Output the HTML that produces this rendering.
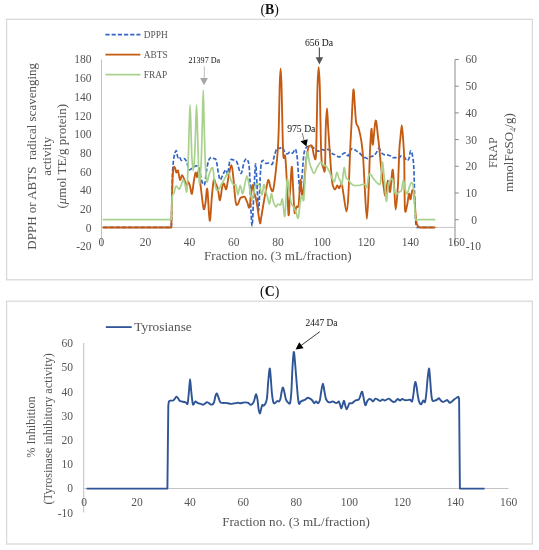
<!DOCTYPE html>
<html><head><meta charset="utf-8"><title>Figure</title>
<style>html,body{margin:0;padding:0;background:#fff}body{width:539px;height:550px;position:relative;overflow:hidden}</style>
</head><body>
<svg width="539" height="550" viewBox="0 0 539 550" style="position:absolute;left:0;top:0;font-family:'Liberation Serif',serif">
<rect x="6.6" y="19.3" width="525.8" height="260.5" fill="#fff" stroke="#d9d9d9" stroke-width="1.3"/>
<rect x="6.6" y="301.2" width="525.8" height="242.8" fill="#fff" stroke="#d9d9d9" stroke-width="1.3"/>
<text x="269.7" y="14.1" font-size="13.8" text-anchor="middle" fill="#111">(<tspan font-weight="bold">B</tspan>)</text>
<text x="269.7" y="296.4" font-size="13.8" text-anchor="middle" fill="#111">(<tspan font-weight="bold">C</tspan>)</text>
<line x1="101.5" y1="59.5" x2="101.5" y2="246.5" stroke="#bfbfbf" stroke-width="1"/>
<line x1="101.5" y1="227.4" x2="455" y2="227.4" stroke="#c4c4c4" stroke-width="1"/>
<line x1="455" y1="59.5" x2="455" y2="246.5" stroke="#8c8c8c" stroke-width="1"/>
<line x1="455" y1="59.5" x2="458.8" y2="59.5" stroke="#8c8c8c" stroke-width="1"/>
<line x1="455" y1="86.2" x2="458.8" y2="86.2" stroke="#8c8c8c" stroke-width="1"/>
<line x1="455" y1="112.9" x2="458.8" y2="112.9" stroke="#8c8c8c" stroke-width="1"/>
<line x1="455" y1="139.6" x2="458.8" y2="139.6" stroke="#8c8c8c" stroke-width="1"/>
<line x1="455" y1="166.3" x2="458.8" y2="166.3" stroke="#8c8c8c" stroke-width="1"/>
<line x1="455" y1="193.0" x2="458.8" y2="193.0" stroke="#8c8c8c" stroke-width="1"/>
<line x1="455" y1="219.7" x2="458.8" y2="219.7" stroke="#8c8c8c" stroke-width="1"/>
<text x="91.5" y="63.4" font-size="11.5" text-anchor="end" fill="#545454">180</text>
<text x="91.5" y="82.1" font-size="11.5" text-anchor="end" fill="#545454">160</text>
<text x="91.5" y="100.8" font-size="11.5" text-anchor="end" fill="#545454">140</text>
<text x="91.5" y="119.5" font-size="11.5" text-anchor="end" fill="#545454">120</text>
<text x="91.5" y="138.2" font-size="11.5" text-anchor="end" fill="#545454">100</text>
<text x="91.5" y="156.9" font-size="11.5" text-anchor="end" fill="#545454">80</text>
<text x="91.5" y="175.6" font-size="11.5" text-anchor="end" fill="#545454">60</text>
<text x="91.5" y="194.3" font-size="11.5" text-anchor="end" fill="#545454">40</text>
<text x="91.5" y="213.0" font-size="11.5" text-anchor="end" fill="#545454">20</text>
<text x="91.5" y="231.7" font-size="11.5" text-anchor="end" fill="#545454">0</text>
<text x="91.5" y="250.4" font-size="11.5" text-anchor="end" fill="#545454">-20</text>
<text x="477.0" y="63.4" font-size="11.5" text-anchor="end" fill="#545454">60</text>
<text x="477.0" y="90.1" font-size="11.5" text-anchor="end" fill="#545454">50</text>
<text x="477.0" y="116.8" font-size="11.5" text-anchor="end" fill="#545454">40</text>
<text x="477.0" y="143.5" font-size="11.5" text-anchor="end" fill="#545454">30</text>
<text x="477.0" y="170.2" font-size="11.5" text-anchor="end" fill="#545454">20</text>
<text x="477.0" y="196.9" font-size="11.5" text-anchor="end" fill="#545454">10</text>
<text x="477.0" y="223.6" font-size="11.5" text-anchor="end" fill="#545454">0</text>
<text x="481.0" y="250.3" font-size="11.5" text-anchor="end" fill="#545454">-10</text>
<text x="101.3" y="245.8" font-size="11.5" text-anchor="middle" fill="#545454">0</text>
<text x="145.5" y="245.8" font-size="11.5" text-anchor="middle" fill="#545454">20</text>
<text x="189.6" y="245.8" font-size="11.5" text-anchor="middle" fill="#545454">40</text>
<text x="233.8" y="245.8" font-size="11.5" text-anchor="middle" fill="#545454">60</text>
<text x="277.9" y="245.8" font-size="11.5" text-anchor="middle" fill="#545454">80</text>
<text x="322.1" y="245.8" font-size="11.5" text-anchor="middle" fill="#545454">100</text>
<text x="366.3" y="245.8" font-size="11.5" text-anchor="middle" fill="#545454">120</text>
<text x="410.4" y="245.8" font-size="11.5" text-anchor="middle" fill="#545454">140</text>
<text x="456.3" y="245.8" font-size="11.5" text-anchor="middle" fill="#545454">160</text>
<text x="277.8" y="260.4" font-size="13.1" text-anchor="middle" fill="#545454">Fraction no. (3 mL/fraction)</text>
<g transform="translate(0,156.3) rotate(-90)" font-size="13" text-anchor="middle" fill="#545454">
<text x="0" y="36.3" xml:space="preserve">DPPH or ABTS  radical scavenging</text>
<text x="0" y="50.8">activity</text>
<text x="0" y="66">(<tspan font-style="italic">μ</tspan>mol TE/g protein)</text>
</g>
<g transform="translate(0,152.6) rotate(-90)" font-size="13" text-anchor="middle" fill="#545454">
<text x="0" y="497.2" font-size="12.3">FRAP</text>
<text x="0" y="513">mmolFeSO<tspan font-size="8.5" dy="2.5">4</tspan><tspan dy="-2.5">/g)</tspan></text>
</g>
<line x1="105.4" y1="34.7" x2="140.4" y2="34.7" stroke="#3566c6" stroke-width="1.8" stroke-dasharray="4.2 2"/>
<text x="143.7" y="37.9" font-size="9.4" fill="#545454">DPPH</text>
<line x1="105.4" y1="54.6" x2="140.4" y2="54.6" stroke="#c55a11" stroke-width="1.8"/>
<text x="143.7" y="57.8" font-size="9.4" fill="#545454">ABTS</text>
<line x1="105.4" y1="74.6" x2="140.4" y2="74.6" stroke="#a9d18e" stroke-width="1.8"/>
<text x="143.7" y="77.8" font-size="9.4" fill="#545454">FRAP</text>
<path d="M103.30,227.30 L171.30,227.30 C171.43,222.03 171.84,204.95 172.06,195.66 C172.28,186.37 172.31,177.88 172.62,171.54 C172.93,165.20 173.33,161.12 173.91,157.63 C174.50,154.13 175.49,150.64 176.14,150.58 C176.79,150.51 177.25,156.23 177.81,157.25 C178.37,158.27 178.89,156.17 179.48,156.70 C180.07,157.22 180.56,160.10 181.34,160.41 C182.11,160.72 183.19,158.24 184.12,158.55 C185.05,158.86 186.13,160.41 186.90,162.26 C187.67,164.12 187.83,168.76 188.76,169.68 C189.68,170.61 191.23,168.45 192.47,167.83 C193.70,167.21 195.10,165.97 196.18,165.97 C197.26,165.97 198.03,165.36 198.96,167.83 C199.89,170.30 200.82,178.03 201.74,180.82 C202.67,183.60 203.75,186.07 204.53,184.53 C205.30,182.98 205.70,175.56 206.38,171.54 C207.06,167.52 207.84,162.73 208.61,160.41 C209.38,158.09 210.15,157.93 211.02,157.63 C211.89,157.32 212.94,158.09 213.80,158.55 C214.67,159.02 215.44,157.93 216.22,160.41 C216.99,162.88 217.76,170.15 218.44,173.40 C219.12,176.64 219.52,179.73 220.30,179.89 C221.07,180.04 222.15,176.02 223.08,174.32 C224.01,172.62 225.09,169.68 225.86,169.68 C226.64,169.68 227.10,175.56 227.72,174.32 C228.34,173.09 228.95,164.74 229.57,162.26 C230.19,159.79 230.66,159.79 231.43,159.48 C232.20,159.17 233.28,159.94 234.21,160.41 C235.14,160.87 236.07,160.41 236.99,162.26 C237.92,164.12 239.00,169.84 239.78,171.54 C240.55,173.24 240.86,174.17 241.63,172.47 C242.41,170.77 243.49,163.50 244.42,161.34 C245.34,159.17 246.36,158.09 247.20,159.48 C248.03,160.87 248.81,161.49 249.42,169.68 C250.04,177.88 250.45,199.37 250.91,208.65 C251.37,217.92 251.74,227.51 252.21,225.34 C252.67,223.18 253.14,205.86 253.69,195.66 C254.25,185.45 255.02,166.28 255.55,164.12 C256.08,161.95 256.49,176.49 256.86,182.67 C257.24,188.86 257.51,196.49 257.79,201.22 C258.07,205.96 258.29,211.06 258.53,211.06 C258.78,211.06 259.00,206.88 259.28,201.22 C259.55,195.57 259.86,183.44 260.20,177.11 C260.54,170.77 260.85,165.97 261.32,163.19 C261.78,160.41 262.24,160.41 262.99,160.41 C263.73,160.41 264.84,162.73 265.77,163.19 C266.70,163.65 267.47,163.04 268.55,163.19 C269.64,163.35 271.34,165.20 272.26,164.12 C273.19,163.04 273.35,159.33 274.12,156.70 C274.89,154.07 275.97,149.74 276.90,148.35 C277.83,146.96 278.76,148.50 279.68,148.35 C280.61,148.19 281.69,146.96 282.47,147.42 C283.24,147.88 283.55,150.05 284.32,151.13 C285.10,152.21 286.18,153.76 287.11,153.91 C288.03,154.07 288.96,152.21 289.89,152.06 C290.82,151.90 291.74,153.45 292.67,152.99 C293.60,152.52 294.68,148.35 295.45,149.28 C296.23,150.20 296.78,153.91 297.31,158.55 C297.84,163.19 298.14,171.54 298.61,177.11 C299.07,182.67 299.54,191.95 300.09,191.95 C300.65,191.95 301.33,183.29 301.95,177.11 C302.57,170.92 303.18,159.64 303.80,154.84 C304.42,150.05 305.04,149.74 305.66,148.35 C306.28,146.96 306.74,146.80 307.51,146.49 C308.29,146.18 309.37,146.34 310.30,146.49 C311.22,146.65 312.15,146.80 313.08,147.42 C314.01,148.04 314.94,149.59 315.86,150.20 C316.79,150.82 317.72,151.29 318.65,151.13 C319.57,150.98 320.50,149.43 321.43,149.28 C322.36,149.12 323.28,150.20 324.21,150.20 C325.14,150.20 326.07,149.28 326.99,149.28 C327.92,149.28 328.85,149.43 329.78,150.20 C330.71,150.98 331.63,153.14 332.56,153.91 C333.49,154.69 334.42,154.38 335.34,154.84 C336.27,155.31 337.35,156.39 338.13,156.70 C338.90,157.01 339.22,157.16 340.00,156.70 C340.78,156.23 341.86,154.53 342.78,153.91 C343.71,153.30 344.64,152.68 345.57,152.99 C346.49,153.30 347.42,156.39 348.35,155.77 C349.28,155.15 350.20,150.36 351.13,149.28 C352.06,148.19 352.99,148.97 353.91,149.28 C354.84,149.59 355.77,150.51 356.70,151.13 C357.63,151.75 358.55,152.21 359.48,152.99 C360.41,153.76 361.34,155.00 362.26,155.77 C363.19,156.54 364.12,157.16 365.05,157.63 C365.97,158.09 366.90,158.71 367.83,158.55 C368.76,158.40 369.68,157.16 370.61,156.70 C371.54,156.23 372.47,156.39 373.40,155.77 C374.32,155.15 375.25,154.22 376.18,152.99 C377.11,151.75 378.03,148.35 378.96,148.35 C379.89,148.35 380.82,151.90 381.74,152.99 C382.67,154.07 383.60,154.53 384.53,154.84 C385.45,155.15 386.38,154.69 387.31,154.84 C388.24,155.00 389.17,155.31 390.09,155.77 C391.02,156.23 391.95,157.32 392.88,157.63 C393.80,157.93 394.73,157.47 395.66,157.63 C396.59,157.78 397.51,158.86 398.44,158.55 C399.37,158.24 400.30,156.08 401.22,155.77 C402.15,155.46 403.08,155.92 404.01,156.70 C404.94,157.47 405.96,160.10 406.79,160.41 C407.63,160.72 408.40,160.10 409.02,158.55 C409.64,157.01 409.94,151.75 410.50,151.13 C411.06,150.51 411.80,152.06 412.36,154.84 C412.91,157.63 413.47,161.03 413.84,167.83 C414.21,174.63 414.27,186.69 414.58,195.66 C414.89,204.63 415.26,216.31 415.70,221.63 C416.13,226.95 416.93,226.58 417.18,227.57 L417.50,227.30 L434.70,227.30" fill="none" stroke="#3566c6" stroke-width="1.7" stroke-dasharray="4.2 2" stroke-linejoin="round"/>
<path d="M103.30,227.50 L171.30,227.50 C171.43,222.19 171.84,204.06 172.06,195.66 C172.28,187.26 172.34,181.81 172.62,177.11 C172.89,172.41 173.33,169.00 173.73,167.46 C174.13,165.91 174.59,166.99 175.03,167.83 C175.46,168.66 175.83,172.00 176.33,172.47 C176.82,172.93 177.38,169.38 178.00,170.61 C178.61,171.85 179.33,179.12 180.04,179.89 C180.75,180.66 181.43,174.94 182.26,175.25 C183.10,175.56 184.27,180.04 185.05,181.74 C185.82,183.44 186.38,185.45 186.90,185.45 C187.43,185.45 187.67,181.59 188.20,181.74 C188.73,181.90 189.44,184.37 190.06,186.38 C190.67,188.39 191.29,194.58 191.91,193.80 C192.53,193.03 193.15,185.30 193.77,181.74 C194.38,178.19 195.06,173.24 195.62,172.47 C196.18,171.69 196.55,177.41 197.11,177.11 C197.66,176.80 198.34,168.91 198.96,170.61 C199.58,172.31 200.04,180.97 200.82,187.31 C201.59,193.65 202.83,206.02 203.60,208.65 C204.37,211.27 204.84,206.33 205.45,203.08 C206.07,199.83 206.60,186.23 207.31,189.17 C208.02,192.10 208.95,219.62 209.72,220.71 C210.49,221.79 211.27,202.46 211.95,195.66 C212.63,188.86 213.18,181.90 213.80,179.89 C214.42,177.88 214.98,182.05 215.66,183.60 C216.34,185.15 217.17,186.38 217.88,189.17 C218.60,191.95 219.21,200.61 219.93,200.30 C220.64,199.99 221.47,190.09 222.15,187.31 C222.83,184.53 223.33,183.29 224.01,183.60 C224.69,183.91 225.46,190.40 226.23,189.17 C227.01,187.93 227.78,180.20 228.65,176.18 C229.51,172.16 230.66,164.89 231.43,165.05 C232.20,165.20 232.57,170.92 233.28,177.11 C234.00,183.29 234.92,197.67 235.70,202.15 C236.47,206.64 237.18,204.63 237.92,204.01 C238.66,203.39 239.38,199.59 240.15,198.44 C240.92,197.30 241.79,197.39 242.56,197.14 C243.33,196.90 244.01,196.12 244.79,196.96 C245.56,197.79 246.39,200.48 247.20,202.15 C248.00,203.82 248.77,209.76 249.61,206.98 C250.45,204.19 251.45,187.77 252.23,185.45 C253.00,183.14 253.56,190.43 254.27,193.06 C254.98,195.69 255.57,196.34 256.49,201.22 C257.42,206.11 259.06,219.59 259.83,222.37 C260.61,225.16 260.45,221.45 261.13,217.92 C261.81,214.40 262.99,206.48 263.91,201.22 C264.84,195.97 265.92,189.94 266.70,186.38 C267.47,182.83 267.87,179.58 268.55,179.89 C269.23,180.20 270.01,186.54 270.78,188.24 C271.55,189.94 272.33,193.18 273.19,190.09 C274.06,187.00 275.20,176.49 275.97,169.68 C276.75,162.88 277.37,156.18 277.83,149.28 C278.29,142.38 278.45,138.90 278.76,128.29 C279.07,117.68 279.38,95.58 279.68,85.62 C279.99,75.66 280.30,68.55 280.61,68.55 C280.92,68.55 281.23,75.66 281.54,85.62 C281.85,95.58 282.16,116.45 282.47,128.29 C282.78,140.14 282.93,151.96 283.40,156.70 C283.86,161.43 284.63,151.75 285.25,156.70 C285.87,161.65 286.55,176.64 287.11,186.38 C287.66,196.12 288.13,213.59 288.59,215.14 C289.05,216.69 289.36,203.70 289.89,195.66 C290.41,187.62 291.22,168.45 291.74,166.90 C292.27,165.36 292.58,178.81 293.04,186.38 C293.51,193.96 293.97,208.95 294.53,212.36 C295.08,215.76 295.70,208.03 296.38,206.79 C297.06,205.55 297.93,209.42 298.61,204.94 C299.29,200.45 299.88,181.43 300.46,179.89 C301.05,178.34 301.58,194.42 302.13,195.66 C302.69,196.90 303.31,191.33 303.80,187.31 C304.30,183.29 304.64,176.64 305.10,171.54 C305.57,166.44 306.03,160.72 306.59,156.70 C307.14,152.68 307.82,149.28 308.44,147.42 C309.06,145.57 309.68,145.72 310.30,145.57 C310.92,145.41 311.53,144.79 312.15,146.49 C312.77,148.19 313.39,154.07 314.01,155.77 C314.63,157.47 315.40,162.20 315.86,156.70 C316.33,151.19 316.51,134.57 316.79,122.73 C317.07,110.88 317.22,94.90 317.53,85.62 C317.84,76.35 318.27,67.07 318.65,67.07 C319.02,67.07 319.45,76.35 319.76,85.62 C320.07,94.90 320.22,110.57 320.50,122.73 C320.78,134.88 320.96,151.04 321.43,158.55 C321.89,166.07 322.70,166.13 323.28,167.83 C323.87,169.53 324.55,175.10 324.95,168.76 C325.36,162.41 325.36,139.83 325.70,129.78 C326.04,119.72 326.56,108.44 326.99,108.44 C327.43,108.44 327.52,118.33 328.29,129.78 C329.07,141.22 330.77,167.52 331.63,177.11 C332.50,186.69 332.87,185.30 333.49,187.31 C334.11,189.32 334.72,189.47 335.34,189.17 C335.96,188.86 336.58,185.61 337.20,185.45 C337.82,185.30 338.59,188.08 339.05,188.24 C339.52,188.39 339.53,187.00 340.00,186.38 C340.47,185.76 341.24,182.98 341.86,184.53 C342.47,186.07 342.94,191.18 343.71,195.66 C344.48,200.14 345.72,211.43 346.49,211.43 C347.27,211.43 347.73,206.02 348.35,195.66 C348.97,185.30 349.68,161.18 350.20,149.28 C350.73,137.37 350.98,134.11 351.50,124.21 C352.03,114.31 352.80,92.98 353.36,89.89 C353.91,86.80 354.38,100.25 354.84,105.66 C355.31,111.07 355.52,118.65 356.14,122.36 C356.76,126.07 357.69,124.83 358.55,127.92 C359.42,131.01 360.56,135.80 361.34,140.91 C362.11,146.01 362.63,150.97 363.19,158.55 C363.75,166.13 364.06,176.33 364.68,186.38 C365.29,196.43 366.22,218.85 366.90,218.85 C367.58,218.85 368.23,197.98 368.76,186.38 C369.28,174.79 369.59,158.87 370.06,149.28 C370.52,139.69 371.08,129.63 371.54,128.85 C372.00,128.07 372.16,146.01 372.84,144.62 C373.52,143.23 374.76,121.74 375.62,120.50 C376.49,119.26 377.41,132.56 378.03,137.20 C378.65,141.84 378.81,143.23 379.33,148.33 C379.86,153.44 380.48,161.49 381.19,167.83 C381.90,174.17 382.89,181.74 383.60,186.38 C384.31,191.02 384.74,196.59 385.45,195.66 C386.17,194.73 387.09,181.43 387.87,180.82 C388.64,180.20 389.32,193.80 390.09,191.95 C390.87,190.09 391.82,170.61 392.50,169.68 C393.18,168.76 393.65,179.73 394.17,186.38 C394.70,193.03 395.04,209.57 395.66,209.57 C396.28,209.57 397.27,196.43 397.88,186.38 C398.50,176.33 398.97,157.16 399.37,149.28 C399.77,141.39 399.89,143.08 400.30,139.05 C400.70,135.03 401.32,125.14 401.78,125.14 C402.24,125.14 402.68,133.48 403.08,139.05 C403.48,144.62 403.88,146.95 404.19,158.55 C404.50,170.15 404.44,200.92 404.94,208.65 C405.43,216.38 406.48,207.41 407.16,204.94 C407.84,202.46 408.46,194.73 409.02,193.80 C409.57,192.88 409.94,199.99 410.50,199.37 C411.06,198.75 411.74,190.71 412.36,190.09 C412.97,189.47 413.59,190.71 414.21,195.66 C414.83,200.61 415.45,214.68 416.07,219.78 C416.69,224.88 417.30,225.03 417.92,226.27 C418.54,227.51 419.47,227.04 419.78,227.20 L420.20,227.50 L434.70,227.50" fill="none" stroke="#c55a11" stroke-width="1.85" stroke-linejoin="round" stroke-linecap="round"/>
<path d="M103.30,219.70 L171.30,219.70 C171.40,217.55 171.69,210.80 171.87,206.79 C172.06,202.78 172.06,197.98 172.43,195.66 C172.80,193.34 173.54,194.42 174.10,192.88 C174.66,191.33 175.18,187.31 175.77,186.38 C176.36,185.45 177.01,186.85 177.63,187.31 C178.24,187.77 178.86,189.63 179.48,189.17 C180.10,188.70 180.72,186.07 181.34,184.53 C181.95,182.98 182.57,179.89 183.19,179.89 C183.81,179.89 184.43,182.67 185.05,184.53 C185.66,186.38 186.38,194.84 186.90,191.02 C187.43,187.20 187.86,170.86 188.20,161.63 C188.54,152.41 188.63,145.09 188.94,135.66 C189.25,126.23 189.68,105.05 190.06,105.05 C190.43,105.05 190.86,126.85 191.17,135.66 C191.48,144.47 191.57,152.10 191.91,157.92 C192.25,163.75 192.78,170.61 193.21,170.61 C193.64,170.61 194.14,163.75 194.51,157.92 C194.88,152.10 195.10,144.47 195.44,135.66 C195.78,126.85 196.18,105.05 196.55,105.05 C196.92,105.05 197.35,126.23 197.66,135.66 C197.97,145.09 198.10,153.33 198.40,161.63 C198.71,169.93 199.05,185.45 199.52,185.45 C199.98,185.45 200.75,170.55 201.19,161.63 C201.62,152.71 201.77,143.85 202.12,131.95 C202.46,120.04 202.86,90.20 203.23,90.20 C203.60,90.20 204.00,120.04 204.34,131.95 C204.68,143.85 204.87,153.33 205.27,161.63 C205.67,169.93 206.10,179.63 206.75,181.74 C207.40,183.86 208.21,176.64 209.17,174.32 C210.12,172.00 211.58,166.44 212.50,167.83 C213.43,169.22 214.05,178.96 214.73,182.67 C215.41,186.38 215.88,189.01 216.59,190.09 C217.30,191.18 218.23,190.09 219.00,189.17 C219.77,188.24 220.39,186.07 221.22,184.53 C222.06,182.98 223.14,181.43 224.01,179.89 C224.87,178.34 225.65,176.49 226.42,175.25 C227.19,174.01 227.90,171.69 228.65,172.47 C229.39,173.24 230.10,177.88 230.87,179.89 C231.65,181.90 232.42,183.60 233.28,184.53 C234.15,185.45 235.29,183.75 236.07,185.45 C236.84,187.16 237.24,194.73 237.92,194.73 C238.60,194.73 239.38,185.61 240.15,185.45 C240.92,185.30 241.85,193.65 242.56,193.80 C243.27,193.96 243.70,189.32 244.42,186.38 C245.13,183.44 246.05,176.49 246.83,176.18 C247.60,175.87 248.53,182.21 249.05,184.53 C249.58,186.85 249.53,187.62 250.00,190.09 C250.47,192.57 251.24,198.75 251.86,199.37 C252.47,199.99 253.09,196.28 253.71,193.80 C254.33,191.33 254.79,186.07 255.57,184.53 C256.34,182.98 257.58,183.91 258.35,184.53 C259.12,185.15 259.59,186.54 260.20,188.24 C260.82,189.94 261.44,195.35 262.06,194.73 C262.68,194.11 263.30,185.15 263.91,184.53 C264.53,183.91 265.15,188.86 265.77,191.02 C266.39,193.18 267.01,195.35 267.63,197.51 C268.24,199.68 268.86,204.63 269.48,204.01 C270.10,203.39 270.72,194.27 271.34,193.80 C271.95,193.34 272.42,199.06 273.19,201.22 C273.96,203.39 275.20,206.33 275.97,206.79 C276.75,207.25 277.06,204.32 277.83,204.01 C278.60,203.70 279.84,205.71 280.61,204.94 C281.39,204.16 281.76,197.51 282.47,199.37 C283.18,201.22 284.11,219.31 284.88,216.07 C285.65,212.82 286.43,184.22 287.11,179.89 C287.79,175.56 288.28,186.23 288.96,190.09 C289.64,193.96 290.41,200.30 291.19,203.08 C291.96,205.86 292.80,205.24 293.60,206.79 C294.40,208.34 295.24,210.50 296.01,212.36 C296.78,214.21 297.56,219.47 298.24,217.92 C298.92,216.38 299.47,206.79 300.09,203.08 C300.71,199.37 301.33,196.28 301.95,195.66 C302.57,195.04 303.18,204.01 303.80,199.37 C304.42,194.73 305.04,175.71 305.66,167.83 C306.28,159.94 306.90,152.99 307.51,152.06 C308.13,151.13 308.75,159.64 309.37,162.26 C309.99,164.89 310.45,165.97 311.22,167.83 C312.00,169.68 313.08,173.40 314.01,173.40 C314.94,173.40 315.86,169.53 316.79,167.83 C317.72,166.13 318.80,164.12 319.57,163.19 C320.35,162.26 320.81,161.95 321.43,162.26 C322.05,162.57 322.51,164.43 323.28,165.05 C324.06,165.66 325.14,165.05 326.07,165.97 C326.99,166.90 327.92,168.76 328.85,170.61 C329.78,172.47 330.71,175.25 331.63,177.11 C332.56,178.96 333.55,182.52 334.42,181.74 C335.28,180.97 336.05,172.93 336.83,172.47 C337.60,172.00 338.53,177.72 339.05,178.96 C339.58,180.20 339.53,178.96 340.00,179.89 C340.47,180.82 341.18,186.54 341.86,184.53 C342.54,182.52 343.40,169.07 344.08,167.83 C344.76,166.59 345.23,175.10 345.94,177.11 C346.65,179.12 347.48,178.81 348.35,179.89 C349.21,180.97 350.20,182.67 351.13,183.60 C352.06,184.53 352.99,185.15 353.91,185.45 C354.84,185.76 355.77,185.45 356.70,185.45 C357.63,185.45 358.55,185.61 359.48,185.45 C360.41,185.30 361.34,184.68 362.26,184.53 C363.19,184.37 364.27,184.06 365.05,184.53 C365.82,184.99 366.28,188.86 366.90,187.31 C367.52,185.76 368.14,177.41 368.76,175.25 C369.38,173.09 369.99,174.01 370.61,174.32 C371.23,174.63 371.69,176.02 372.47,177.11 C373.24,178.19 374.32,179.73 375.25,180.82 C376.18,181.90 377.17,183.29 378.03,183.60 C378.90,183.91 379.73,186.23 380.45,182.67 C381.16,179.12 381.68,163.19 382.30,162.26 C382.92,161.34 383.48,170.61 384.16,177.11 C384.84,183.60 385.70,199.99 386.38,201.22 C387.06,202.46 387.56,188.08 388.24,184.53 C388.92,180.97 389.69,180.66 390.46,179.89 C391.24,179.12 392.16,177.88 392.88,179.89 C393.59,181.90 394.11,189.63 394.73,191.95 C395.35,194.27 395.81,193.80 396.59,193.80 C397.36,193.80 398.53,192.57 399.37,191.95 C400.20,191.33 400.92,192.10 401.60,190.09 C402.28,188.08 402.83,179.89 403.45,179.89 C404.07,179.89 404.69,187.77 405.31,190.09 C405.92,192.41 406.45,194.42 407.16,193.80 C407.87,193.18 408.86,188.24 409.57,186.38 C410.28,184.53 410.81,182.67 411.43,182.67 C412.05,182.67 412.76,182.67 413.28,186.38 C413.81,190.09 414.18,199.52 414.58,204.94 C414.98,210.35 415.14,216.38 415.70,218.85 C416.25,221.32 417.55,219.62 417.92,219.78 L418.50,219.70 L434.70,219.70" fill="none" stroke="#a9d18e" stroke-width="1.7" stroke-linejoin="round" stroke-linecap="round"/>
<text x="204.3" y="62.9" font-size="8.1" text-anchor="middle" fill="#111">21397 Da</text>
<line x1="204.3" y1="66.4" x2="204.3" y2="79" stroke="#bdbdbd" stroke-width="1"/>
<polygon points="200.1,78.1 207.9,78.1 204,85.3" fill="#a6a6a6"/>
<text x="319" y="45.9" font-size="9.7" text-anchor="middle" fill="#111">656 Da</text>
<line x1="319.4" y1="47.5" x2="319.4" y2="58" stroke="#595959" stroke-width="1.2"/>
<polygon points="315.7,57.3 323.2,57.3 319.4,64.4" fill="#555"/>
<text x="301.3" y="132.1" font-size="9.7" text-anchor="middle" fill="#111">975 Da</text>
<line x1="302.2" y1="133.1" x2="304" y2="140" stroke="#222" stroke-width="0.6"/>
<polygon points="300.5,141.2 307.7,139.2 306.4,146.4" fill="#000"/>
<line x1="83.7" y1="343" x2="83.7" y2="512.5" stroke="#bfbfbf" stroke-width="1"/>
<line x1="84" y1="488.5" x2="508.5" y2="488.5" stroke="#c4c4c4" stroke-width="1"/>
<text x="73" y="347.1" font-size="11.5" text-anchor="end" fill="#545454">60</text>
<text x="73" y="371.3" font-size="11.5" text-anchor="end" fill="#545454">50</text>
<text x="73" y="395.5" font-size="11.5" text-anchor="end" fill="#545454">40</text>
<text x="73" y="419.7" font-size="11.5" text-anchor="end" fill="#545454">30</text>
<text x="73" y="443.9" font-size="11.5" text-anchor="end" fill="#545454">20</text>
<text x="73" y="468.1" font-size="11.5" text-anchor="end" fill="#545454">10</text>
<text x="73" y="492.3" font-size="11.5" text-anchor="end" fill="#545454">0</text>
<text x="73" y="516.5" font-size="11.5" text-anchor="end" fill="#545454">-10</text>
<text x="84.0" y="505.9" font-size="11.5" text-anchor="middle" fill="#545454">0</text>
<text x="137.1" y="505.9" font-size="11.5" text-anchor="middle" fill="#545454">20</text>
<text x="190.1" y="505.9" font-size="11.5" text-anchor="middle" fill="#545454">40</text>
<text x="243.2" y="505.9" font-size="11.5" text-anchor="middle" fill="#545454">60</text>
<text x="296.2" y="505.9" font-size="11.5" text-anchor="middle" fill="#545454">80</text>
<text x="349.3" y="505.9" font-size="11.5" text-anchor="middle" fill="#545454">100</text>
<text x="402.4" y="505.9" font-size="11.5" text-anchor="middle" fill="#545454">120</text>
<text x="455.4" y="505.9" font-size="11.5" text-anchor="middle" fill="#545454">140</text>
<text x="508.5" y="505.9" font-size="11.5" text-anchor="middle" fill="#545454">160</text>
<text x="296" y="526.2" font-size="13.1" text-anchor="middle" fill="#545454">Fraction no. (3 mL/fraction)</text>
<g transform="translate(0,427) rotate(-90)" font-size="12.2" text-anchor="middle" fill="#545454">
<text x="0" y="34.8">% Inhibition</text>
<text x="-1.8" y="51.6">(Tyrosinase inhibitory activity)</text>
</g>
<line x1="105.8" y1="327.1" x2="131.7" y2="327.1" stroke="#2f5597" stroke-width="1.8"/>
<text x="134.3" y="331" font-size="13.3" fill="#545454">Tyrosianse</text>
<path d="M86.60,488.60 L167.40,488.60 L168.30,406.00 C168.40,405.27 168.57,402.50 168.92,401.61 C169.28,400.73 169.70,400.87 170.41,400.69 C171.12,400.50 172.42,400.87 173.19,400.50 C173.96,400.13 174.49,399.11 175.05,398.46 C175.60,397.81 176.00,396.60 176.53,396.60 C177.06,396.60 177.67,397.78 178.20,398.46 C178.73,399.14 179.13,400.19 179.68,400.69 C180.24,401.18 180.77,401.21 181.54,401.43 C182.31,401.65 183.55,401.77 184.32,401.99 C185.10,402.20 185.62,402.51 186.18,402.73 C186.73,402.94 187.20,405.20 187.66,403.28 C188.13,401.37 188.56,395.24 188.96,391.22 C189.36,387.20 189.70,379.17 190.07,379.17 C190.45,379.17 190.75,387.20 191.19,391.22 C191.62,395.24 192.27,401.12 192.67,403.28 C193.07,405.45 193.14,404.52 193.60,404.21 C194.06,403.90 194.84,401.65 195.45,401.43 C196.07,401.21 196.69,402.57 197.31,402.91 C197.93,403.25 198.55,403.31 199.17,403.47 C199.78,403.62 200.40,403.62 201.02,403.84 C201.64,404.06 202.26,404.77 202.88,404.77 C203.49,404.77 204.11,404.24 204.73,403.84 C205.35,403.44 205.97,402.54 206.59,402.36 C207.20,402.17 207.82,402.42 208.44,402.73 C209.06,403.04 209.68,403.90 210.30,404.21 C210.92,404.52 211.53,404.89 212.15,404.58 C212.77,404.27 213.45,403.81 214.01,402.36 C214.56,400.90 215.03,397.35 215.49,395.86 C215.96,394.38 216.33,393.30 216.79,393.45 C217.25,393.61 217.72,395.37 218.27,396.79 C218.83,398.21 219.45,400.96 220.13,401.99 C220.81,403.01 221.52,402.76 222.36,402.91 C223.19,403.07 224.21,402.85 225.14,402.91 C226.07,402.97 226.99,403.13 227.92,403.28 C228.85,403.44 229.78,403.81 230.71,403.84 C231.63,403.87 232.56,403.59 233.49,403.47 C234.42,403.35 235.50,403.22 236.27,403.10 C237.04,402.97 237.50,402.70 238.13,402.73 C238.75,402.76 239.22,403.28 240.00,403.28 C240.78,403.28 241.86,402.88 242.78,402.73 C243.71,402.57 244.64,402.33 245.57,402.36 C246.49,402.39 247.58,402.54 248.35,402.91 C249.12,403.28 249.59,404.37 250.20,404.58 C250.82,404.80 251.44,404.74 252.06,404.21 C252.68,403.69 253.36,402.82 253.91,401.43 C254.47,400.04 255.00,397.01 255.40,395.86 C255.80,394.72 255.96,393.79 256.33,394.56 C256.70,395.34 257.25,398.12 257.63,400.50 C258.00,402.88 258.18,406.69 258.55,408.85 C258.92,411.01 259.45,413.33 259.85,413.49 C260.25,413.64 260.56,411.17 260.96,409.78 C261.37,408.39 261.80,405.82 262.26,405.14 C262.73,404.46 263.28,405.85 263.75,405.70 C264.21,405.54 264.52,405.39 265.05,404.21 C265.57,403.04 266.38,402.36 266.90,398.65 C267.43,394.94 267.74,386.96 268.20,381.95 C268.66,376.94 269.25,369.21 269.68,368.59 C270.12,367.97 270.43,374.16 270.80,378.24 C271.17,382.32 271.48,389.06 271.91,393.08 C272.34,397.10 272.84,400.72 273.40,402.36 C273.95,404.00 274.63,403.13 275.25,402.91 C275.87,402.70 276.49,401.30 277.11,401.06 C277.72,400.81 278.40,401.83 278.96,401.43 C279.52,401.03 279.98,400.35 280.45,398.65 C280.91,396.94 281.31,393.08 281.74,391.22 C282.18,389.37 282.58,387.20 283.04,387.51 C283.51,387.82 284.03,391.07 284.53,393.08 C285.02,395.09 285.45,398.03 286.01,399.57 C286.57,401.12 287.19,401.80 287.87,402.36 C288.55,402.91 289.51,404.77 290.09,402.91 C290.68,401.06 290.99,397.19 291.39,391.22 C291.79,385.26 292.10,373.66 292.50,367.11 C292.91,360.55 293.37,352.51 293.80,351.89 C294.24,351.27 294.64,358.39 295.10,363.40 C295.57,368.40 296.12,376.38 296.59,381.95 C297.05,387.51 297.48,393.14 297.88,396.79 C298.29,400.44 298.50,403.07 299.00,403.84 C299.49,404.61 300.17,401.99 300.85,401.43 C301.53,400.87 302.34,400.81 303.08,400.50 C303.82,400.19 304.53,400.04 305.31,399.57 C306.08,399.11 306.91,397.87 307.72,397.72 C308.52,397.56 309.36,398.18 310.13,398.65 C310.90,399.11 311.68,399.73 312.36,400.50 C313.04,401.27 313.59,403.13 314.21,403.28 C314.83,403.44 315.45,401.43 316.07,401.43 C316.69,401.43 317.30,403.44 317.92,403.28 C318.54,403.13 319.22,402.51 319.78,400.50 C320.33,398.49 320.74,394.01 321.26,391.22 C321.79,388.44 322.41,383.80 322.93,383.80 C323.46,383.80 323.92,388.75 324.42,391.22 C324.91,393.70 325.37,396.94 325.90,398.65 C326.43,400.35 326.89,400.81 327.57,401.43 C328.25,402.05 329.13,402.36 330.00,402.36 C330.87,402.36 331.86,401.34 332.78,401.43 C333.71,401.52 334.79,402.70 335.57,402.91 C336.34,403.13 336.86,402.97 337.42,402.73 C337.98,402.48 338.44,401.03 338.91,401.43 C339.37,401.83 339.77,404.00 340.20,405.14 C340.64,406.28 341.04,408.60 341.50,408.29 C341.97,407.98 342.55,404.52 342.99,403.28 C343.42,402.05 343.70,400.41 344.10,400.87 C344.50,401.34 344.97,404.68 345.40,406.07 C345.83,407.46 346.23,409.22 346.70,409.22 C347.16,409.22 347.72,407.06 348.18,406.07 C348.65,405.08 348.86,403.75 349.48,403.28 C350.10,402.82 351.12,403.59 351.89,403.28 C352.67,402.97 353.38,401.95 354.12,401.43 C354.86,400.90 355.57,400.44 356.35,400.13 C357.12,399.82 358.14,400.13 358.76,399.57 C359.38,399.02 359.65,397.87 360.06,396.79 C360.46,395.71 360.80,393.91 361.17,393.08 C361.54,392.24 361.91,391.16 362.28,391.78 C362.65,392.40 362.99,394.87 363.40,396.79 C363.80,398.71 364.32,401.89 364.69,403.28 C365.06,404.68 365.22,405.45 365.62,405.14 C366.02,404.83 366.55,402.45 367.11,401.43 C367.66,400.41 368.28,399.33 368.96,399.02 C369.64,398.71 370.51,399.17 371.19,399.57 C371.87,399.98 372.33,401.58 373.04,401.43 C373.75,401.27 374.65,398.95 375.45,398.65 C376.26,398.34 377.09,399.20 377.87,399.57 C378.64,399.94 379.32,400.87 380.09,400.87 C380.87,400.87 381.73,399.64 382.50,399.57 C383.28,399.51 384.05,400.50 384.73,400.50 C385.41,400.50 385.88,399.88 386.59,399.57 C387.30,399.26 388.23,398.49 389.00,398.65 C389.77,398.80 390.48,399.94 391.22,400.50 C391.97,401.06 392.77,401.83 393.45,401.99 C394.13,402.14 394.59,401.92 395.31,401.43 C396.02,400.93 396.94,399.17 397.72,399.02 C398.50,398.86 399.25,400.50 400.00,400.50 C400.75,400.50 401.45,399.08 402.23,399.02 C403.00,398.95 403.77,399.94 404.64,400.13 C405.50,400.32 406.49,400.19 407.42,400.13 C408.35,400.07 409.43,399.54 410.20,399.76 C410.98,399.98 411.53,402.23 412.06,401.43 C412.59,400.62 412.96,397.56 413.36,394.94 C413.76,392.31 414.10,387.82 414.47,385.66 C414.84,383.49 415.21,381.64 415.58,381.95 C415.96,382.26 416.30,385.04 416.70,387.51 C417.10,389.99 417.53,394.25 418.00,396.79 C418.46,399.33 418.92,401.49 419.48,402.73 C420.04,403.96 420.72,404.58 421.34,404.21 C421.95,403.84 422.57,400.87 423.19,400.50 C423.81,400.13 424.52,403.22 425.05,401.99 C425.57,400.75 425.94,396.73 426.35,393.08 C426.75,389.43 427.03,384.17 427.46,380.09 C427.89,376.01 428.51,368.90 428.94,368.59 C429.38,368.28 429.68,374.16 430.06,378.24 C430.43,382.32 430.77,389.37 431.17,393.08 C431.57,396.79 431.79,399.26 432.47,400.50 C433.15,401.74 434.48,400.66 435.25,400.50 C436.02,400.35 436.49,399.94 437.11,399.57 C437.72,399.20 438.34,398.12 438.96,398.27 C439.58,398.43 440.14,399.88 440.82,400.50 C441.50,401.12 442.27,401.92 443.04,401.99 C443.82,402.05 444.74,401.18 445.45,400.87 C446.17,400.56 446.60,399.82 447.31,400.13 C448.02,400.44 448.95,402.51 449.72,402.73 C450.49,402.94 451.11,402.05 451.95,401.43 C452.78,400.81 453.96,399.64 454.73,399.02 C455.50,398.40 455.97,398.09 456.59,397.72 C457.20,397.35 458.13,396.94 458.44,396.79 L459.10,399.00 L459.90,488.60 L484.60,488.60" fill="none" stroke="#2f5597" stroke-width="1.9" stroke-linejoin="round"/>
<text x="321.5" y="326.4" font-size="9.4" text-anchor="middle" fill="#111">2447 Da</text>
<line x1="319.8" y1="331.7" x2="299" y2="347" stroke="#222" stroke-width="0.9"/>
<polygon points="295.6,349.5 299.2,342.2 303.6,348.2" fill="#000"/>
</svg>
</body></html>
